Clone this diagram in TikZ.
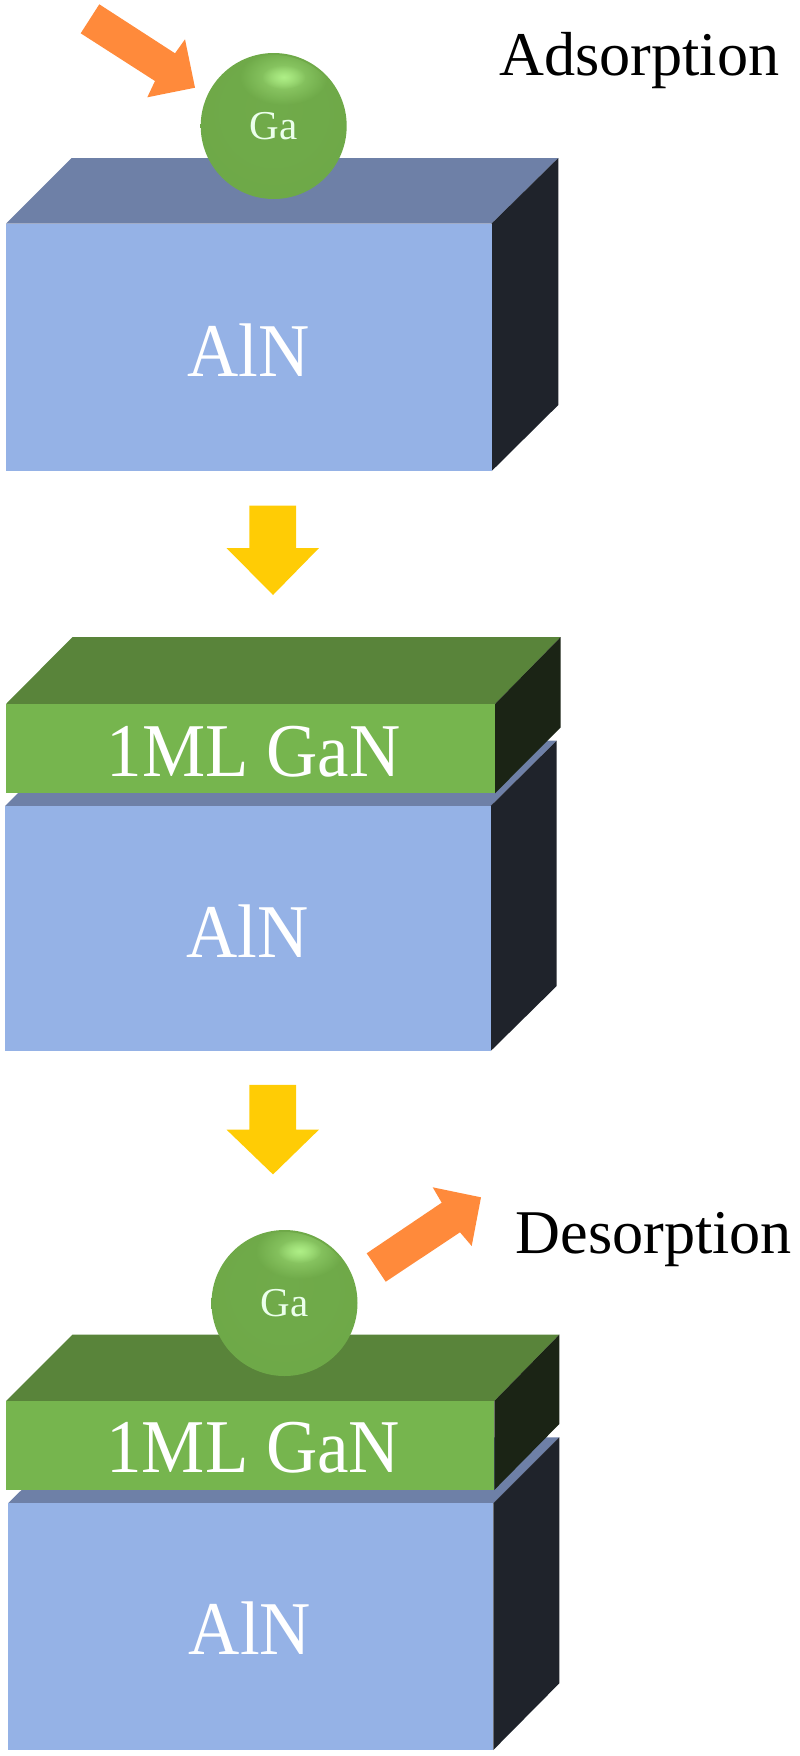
\documentclass[tikz,border=0pt]{standalone}
\usepackage{fontspec}
\usetikzlibrary{fadings}
\setmainfont{Liberation Serif}
\definecolor{blueFront}{HTML}{95B2E6}
\definecolor{blueTop}{HTML}{6E80A7}
\definecolor{blueSide}{HTML}{1F232B}
\definecolor{greenFront}{HTML}{76B54E}
\definecolor{greenTop}{HTML}{59843A}
\definecolor{greenSide}{HTML}{1B2415}
\definecolor{arrowOrange}{HTML}{FF8A3B}
\definecolor{arrowYellow}{HTML}{FFCC05}
\definecolor{gaGlow}{HTML}{B4F58C}
\pgfdeclareradialshading{gaShade}{\pgfpoint{0bp}{7bp}}{%
  rgb(0bp)=(.44,.67,.29);
  rgb(36bp)=(.43,.66,.28);
  rgb(42bp)=(.41,.63,.26);
  rgb(46bp)=(.37,.57,.23);
  rgb(50bp)=(.31,.49,.19);
  rgb(54bp)=(.24,.40,.14);
  rgb(57bp)=(.22,.36,.12)}
\tikzfading[name=gaGlowFade, inner color=transparent!0, outer color=transparent!100]
\newcommand*{\SlabFaces}[9]{% #1 = colour, then front xl/xr/yt/yb, back xl/xr/y, side bottom y
\fill [#1Top] (#2,#4) -- (#6,#8) -- (#7,#8) -- (#3,#4) -- cycle;
\fill [#1Side] (#3,#4) -- (#7,#8) -- (#7,#9) -- (#3,#5) -- cycle;
\fill [#1Front] (#2,#4) rectangle (#3,#5);
}
\newcommand*{\TallText}[1]{\scalebox{1}[1.07]{#1}}
\tikzset{
  gaball/.style={circle, minimum size=146pt, inner sep=0pt, shading=gaShade,
    text=white!92!green, font=\fontsize{41}{41}\selectfont},
  gaglow/.style={fill=gaGlow, path fading=gaGlowFade},
  layertext/.style={anchor=base, text=white, font=\fontsize{71}{71}\selectfont},
  steptext/.style={anchor=base, text=black, font=\fontsize{62.2}{62.2}\selectfont},
}
\begin{document}
\begin{tikzpicture}[x=1pt,y=-1pt]
  \useasboundingbox (0,0) rectangle (800,1756);

  % slabs, lower one first
  \SlabFaces{blue}{6}{491.7}{223.5}{471}{71.7}{558.3}{158}{405}
  \SlabFaces{blue}{5}{490.7}{806}{1051}{71.5}{556.7}{740.7}{986}
  \SlabFaces{green}{6}{495}{704}{793.3}{72.5}{560.7}{637}{727.3}
  \SlabFaces{blue}{8}{493.3}{1503.3}{1750}{75}{559.3}{1437.3}{1683.3}
  \SlabFaces{green}{6}{494.3}{1401}{1490}{72.5}{559.3}{1334.6}{1424}

  % process arrows
  \foreach \ya/\yb/\yc in {505.5/548/595, 1084.8/1129.6/1174.4} {
    \fill [arrowYellow] (249.4,\ya) -- (296,\ya) -- (296,\yb) -- (319,\yb)
      -- (273,\yc) -- (226.5,\yb) -- (249.4,\yb) -- cycle;
  }
  \fill [arrowOrange] (99.3,4.3) -- (80.7,33.3) -- (155,81) -- (147.3,97.3) -- (195,87.7) -- (185,39.3) -- (175,53.3) -- cycle;
  \fill [arrowOrange] (366.7,1253.3) -- (385.7,1281.7) -- (460,1232.3) -- (471.7,1246) -- (481,1197.3) -- (432.7,1187.3) -- (441.7,1202.7) -- cycle;

  % balls with their highlight
  \node [gaball] (gaTop) at (273.7,126) {\raisebox{-3pt}{Ga}};
  \node [gaball] (gaBottom) at (284.5,1303) {\raisebox{-3pt}{Ga}};
  \foreach \ball/\dx/\dy in {gaTop/10/-49, gaBottom/15/-52} {
    \begin{scope}
      \clip (\ball.center) circle (71);
      \fill [gaglow, fill opacity=.6] ([shift={(\dx,\dy)}]\ball.center) ellipse (44 and 28);
      \fill [gaglow, fill opacity=.8] ([shift={(\dx,\dy)}]\ball.center) ellipse (22 and 12);
    \end{scope}
  }

  % labels
  \node [layertext] (alnTop) at (248.4,376) {\TallText{AlN}};
  \node [layertext] (alnMid) at (247.4,957) {\TallText{AlN}};
  \node [layertext] (alnBottom) at (250,1654.8) {\TallText{AlN}};
  \node [layertext] (ganMid) at (253.8,776) {\TallText{1ML GaN}};
  \node [layertext] (ganBottom) at (253.3,1472.5) {\TallText{1ML GaN}};
  \node [steptext] (adsorption) at (639.5,75.4) {Adsorption};
  \node [steptext] (desorption) at (653.7,1253.5) {Desorption};
\end{tikzpicture}
\end{document}
